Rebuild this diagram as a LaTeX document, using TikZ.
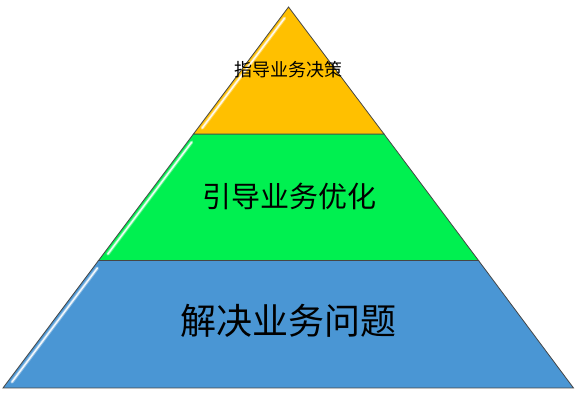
\documentclass[tikz,border=0pt]{standalone}
\usepackage{fontspec}
\newfontfamily\cjk{Noto Sans CJK SC}
\definecolor{tieryellow}{RGB}{255,192,0}
\definecolor{tiergreen}{RGB}{0,240,80}
\definecolor{tierblue}{RGB}{74,150,212}
\definecolor{edgegray}{RGB}{70,70,70}
\begin{document}
\begin{tikzpicture}[x=1pt,y=-1pt,
  tier/.style={draw=edgegray,line width=0.8pt,line join=miter},
  glow/.style={draw=white,line width=3.5pt,line cap=round,opacity=0.35},
  gloss/.style={draw=white,line width=1.5pt,line cap=round,opacity=0.9},
  label/.style={font=\cjk,text=black,inner sep=0pt}]
\useasboundingbox (0,0) rectangle (576,403);
% corners
\coordinate (apex) at (288.5,7);
\coordinate (l1) at (193.5,134);
\coordinate (r1) at (384,134);
\coordinate (l2) at (98.5,260.5);
\coordinate (r2) at (478.5,260.5);
\coordinate (l3) at (3,388);
\coordinate (r3) at (573.5,388);
% tiers
\filldraw[tier,fill=tierblue] (l2) -- (r2) -- (r3) -- (l3) -- cycle;
\filldraw[tier,fill=tiergreen] (l1) -- (r1) -- (r2) -- (l2) -- cycle;
\filldraw[tier,fill=tieryellow] (apex) -- (r1) -- (l1) -- cycle;
% gloss highlights
\coordinate (g1a) at (284.6,18.1);
\coordinate (g1b) at (202.2,128.1);
\coordinate (g2a) at (191.7,142.1);
\coordinate (g2b) at (107.8,254.1);
\coordinate (g3a) at (97.3,268.1);
\coordinate (g3b) at (11.9,382.1);
\foreach \a/\b in {g1a/g1b,g2a/g2b,g3a/g3b}{
  \draw[glow] (\a) -- (\b);
  \draw[gloss] (\a) -- (\b);
}
% labels
\node[label,font=\cjk\fontsize{18}{20}\selectfont] (t1) at (288.5,70) {指导业务决策};
\node[label,font=\cjk\fontsize{29}{32}\selectfont] (t2) at (289.5,196) {引导业务优化};
\node[label,font=\cjk\fontsize{36}{40}\selectfont] (t3) at (288,321) {解决业务问题};
\end{tikzpicture}
\end{document}
